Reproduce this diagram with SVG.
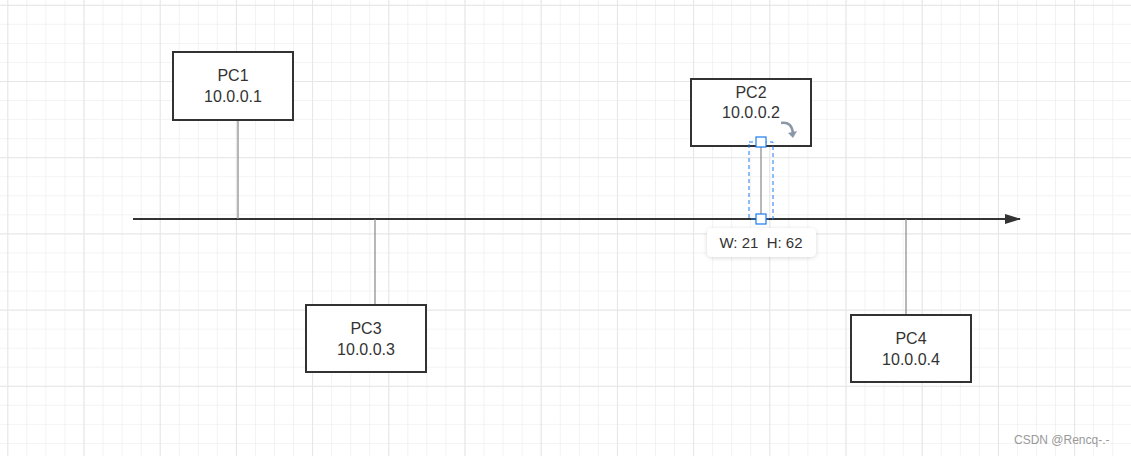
<svg xmlns="http://www.w3.org/2000/svg" width="1131" height="456" viewBox="0 0 1131 456">
<defs>
<pattern id="minor" x="7.3" y="4.8" width="19.05" height="19.05" patternUnits="userSpaceOnUse"><path d="M0 0H19.05M0 0V19.05" stroke="#efefef" stroke-width="1.5" fill="none"/></pattern>
<pattern id="major" x="7.3" y="4.8" width="76.2" height="76.2" patternUnits="userSpaceOnUse"><path d="M0 0H76.2M0 0V76.2" stroke="#e6e6e6" stroke-width="2" fill="none"/></pattern>
<marker id="arr" markerWidth="16" markerHeight="10" refX="15" refY="5" orient="auto" markerUnits="userSpaceOnUse"><path d="M0 0L16 5L0 10z" fill="#333"/></marker>
<filter id="sh" x="-20%" y="-30%" width="140%" height="170%"><feDropShadow dx="0" dy="1" stdDeviation="2" flood-opacity="0.15"/></filter>
</defs>
<style>
.box{fill:#fff;stroke:#323232;stroke-width:2}
.t{font-family:"Liberation Sans",Arial,sans-serif;font-size:16px;fill:#333;text-anchor:middle}
.c{stroke:#888;stroke-width:1.2}
</style>
<rect width="1131" height="456" fill="#fff"/>
<rect width="1131" height="456" fill="url(#minor)"/>
<rect width="1131" height="456" fill="url(#major)"/>
<g id="connectors">
<line x1="133" y1="219" x2="1020" y2="219" stroke="#333" stroke-width="2" marker-end="url(#arr)"/>
<line class="c" x1="238" y1="120" x2="238" y2="219"/>
<line class="c" x1="375" y1="219" x2="375" y2="305"/>
<line class="c" x1="906" y1="219" x2="906" y2="315"/>
<line class="c" x1="761" y1="146" x2="761" y2="219"/>
</g>
<g id="pc1"><rect class="box" x="173" y="52" width="120" height="68"/><text class="t" x="233" y="81">PC1</text><text class="t" x="233" y="102">10.0.0.1</text></g>
<g id="pc2"><rect class="box" x="691" y="79" width="120" height="67"/><text class="t" x="751" y="98">PC2</text><text class="t" x="751" y="118">10.0.0.2</text>
<path d="M781 123 Q792 121 793 134" fill="none" stroke="#8a97a8" stroke-width="2.5"/><path d="M788 133L793 138L797 131z" fill="#8a97a8"/></g>
<g id="pc3"><rect class="box" x="306" y="305" width="120" height="67"/><text class="t" x="366" y="334">PC3</text><text class="t" x="366" y="355">10.0.0.3</text></g>
<g id="pc4"><rect class="box" x="851" y="315" width="120" height="67"/><text class="t" x="911" y="344">PC4</text><text class="t" x="911" y="365">10.0.0.4</text></g>
<g id="selection">
<rect x="749" y="142" width="24" height="77" fill="none" stroke="#1a7cf0" stroke-width="1" stroke-dasharray="4 3"/>
<rect x="756" y="137" width="10" height="10" fill="#fff" stroke="#1a7cf0" stroke-width="1.2"/>
<rect x="756" y="214" width="10" height="10" fill="#fff" stroke="#1a7cf0" stroke-width="1.2"/>
<rect x="707" y="228" width="109" height="29" rx="5" fill="#fff" filter="url(#sh)"/>
<text x="761" y="248" font-family="'Liberation Sans',Arial,sans-serif" font-size="15" fill="#333" text-anchor="middle" xml:space="preserve">W: 21  H: 62</text>
</g>
<text x="1014" y="444" font-family="'Liberation Sans',Arial,sans-serif" font-size="12" fill="#999">CSDN @Rencq-.-</text>
</svg>
